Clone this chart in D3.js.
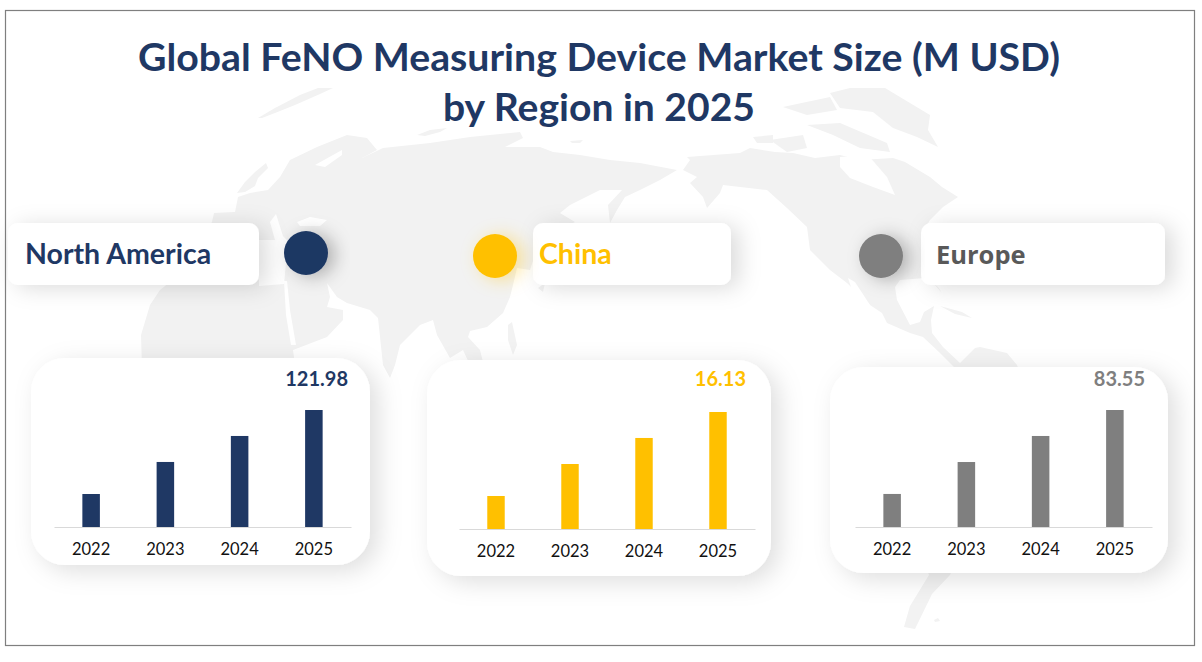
<!DOCTYPE html>
<html>
<head>
<meta charset="utf-8">
<script src="https://cdn.jsdelivr.net/npm/d3@7"></script>
<style>
    html, body { margin: 0; padding: 0; background: #fff; }
    svg { display: block; }
    text { font-family: Lato, "Open Sans", sans-serif; }
</style>
</head>
<body>
<div id="chart"></div>
<script>
// Chart data
const years = ['2022', '2023', '2024', '2025'];
const northAmericaValues = [34.4, 67.8, 94.9, 121.98];
const chinaValues = [4.55, 8.96, 12.55, 16.13];
const europeValues = [23.6, 46.4, 65.0, 83.55];
const titleLines = ['Global FeNO Measuring Device Market Size (M USD)', 'by Region in 2025'];

// Background map outlines, page pixels, traced by eye
const mapLand = [
    [[143,400],[141,335],[150,305],[160,290],[170,282],[160,270],[200,240],[212,222],[214,213],[235,212],[238,197],[250,193],[268,190],[280,177],[290,160],[317,147],[347,135],[367,138],[377,150],[362,158],[383,148],[430,143],[470,137],[520,132],[523,138],[505,147],[540,147],[553,152],[580,155],[610,160],[640,163],[677,170],[660,180],[640,190],[625,197],[617,210],[610,223],[608,205],[622,190],[600,190],[570,205],[560,213],[575,222],[540,240],[530,270],[517,268],[513,285],[510,297],[503,313],[487,327],[470,331],[468,337],[480,350],[483,362],[470,365],[463,350],[450,358],[437,335],[433,320],[420,325],[400,345],[395,365],[390,378],[383,365],[378,318],[370,310],[347,303],[337,297],[327,283],[330,297],[327,307],[343,310],[343,320],[327,337],[293,350],[300,400]],
    [[687,157],[740,153],[750,148],[775,152],[793,153],[815,158],[840,155],[860,160],[893,158],[905,162],[930,177],[942,187],[958,197],[943,207],[930,220],[921,235],[925,277],[938,287],[942,293],[935,285],[925,278],[900,280],[895,287],[897,300],[910,325],[920,322],[924,312],[934,306],[931,320],[932,333],[943,347],[960,363],[975,348],[980,347],[1007,353],[1017,365],[1030,400],[950,575],[932,594],[915,629],[904,627],[910,606],[929,575],[900,500],[955,368],[940,353],[923,337],[910,333],[887,323],[882,313],[870,305],[847,283],[830,270],[810,250],[807,227],[787,208],[767,190],[723,185],[720,193],[707,208],[703,197],[690,183],[697,177],[683,170],[690,160]],
    [[237,193],[245,182],[255,172],[266,163],[268,168],[258,178],[255,186],[245,192]],
    [[258,118],[275,108],[300,95],[318,88],[333,88],[320,94],[295,105],[275,113],[262,118]],
    [[417,135],[430,130],[447,128],[440,132],[425,136]],
    [[570,141],[583,140],[580,143],[572,143]],
    [[753,137],[773,135],[773,143],[757,143]],
    [[770,140],[803,135],[807,148],[787,152]],
    [[807,125],[840,123],[887,143],[890,152],[860,148],[833,135]],
    [[783,107],[830,97],[837,110],[807,115]],
    [[830,93],[850,88],[885,88],[930,115],[928,130],[938,147],[917,137],[893,128],[873,112],[840,108]],
    [[940,306],[962,312],[972,318],[955,314]],
    [[538,288],[545,283],[543,292]],
    [[508,325],[512,322],[517,345],[513,355],[508,340]],
    [[934,620],[938,618],[940,621],[935,622]]
];
const mapWater = [
    [[284,281],[287,281],[290,310],[296,345],[291,345],[286,315]],
    [[259,240],[275,240],[270,222],[276,214],[283,236],[292,245],[286,262],[284,284],[259,286]],
    [[315,165],[342,150],[342,155],[325,167]],
    [[297,222],[310,217],[327,220],[320,226],[300,226]],
    [[840,157],[868,155],[887,177],[895,195],[873,187],[850,178],[840,167]],
    [[848,278],[855,282],[870,305],[866,305],[852,290]]
];

const navy = '#1F3864';
const yellow = '#FFC000';
const grey = '#7F7F7F';

// One block per region
const regions = [
    { name: 'North America', values: northAmericaValues, color: navy, textColor: navy, font: 'Lato', nameSize: 28.5,
      box: [8, 223, 251, 62], nameX: 25, dot: [306, 253], card: [31, 358, 339, 207], axis: [54, 351, 527], valueX: 348 },
    { name: 'China', values: chinaValues, color: yellow, textColor: yellow, font: 'Lato', nameSize: 28.5,
      box: [533, 223, 198, 62], nameX: 539, dot: [495, 256], card: [427, 360, 344, 216], axis: [459, 755, 529], valueX: 746 },
    { name: 'Europe', values: europeValues, color: grey, textColor: '#595959', font: 'Open Sans', nameSize: 25.5,
      box: [921, 223, 244, 62], nameX: 936, dot: [881, 256], card: [830, 367, 338, 206], axis: [855, 1152, 527], valueX: 1145 }
];

const svg = d3.select('#chart').append('svg')
    .attr('width', 1202)
    .attr('height', 662);

// Shadows
const defs = svg.append('defs');

function addShadow(id, dx, dy, blur, color, opacity) {
    defs.append('filter')
        .attr('id', id)
        .attr('x', '-40%').attr('y', '-60%')
        .attr('width', '190%').attr('height', '230%')
        .append('feDropShadow')
        .attr('dx', dx).attr('dy', dy)
        .attr('stdDeviation', blur)
        .attr('flood-color', color)
        .attr('flood-opacity', opacity);
}

addShadow('boxShadow', 8, 3, 11, '#000', 0.14);
addShadow('cardShadow', 8, 6, 12, '#000', 0.13);
addShadow('dotShadow', 7, 2, 9, '#000', 0.28);
addShadow('dotGlow', 6, 2, 9, yellow, 0.4);

defs.append('clipPath').attr('id', 'mapClip')
    .append('rect')
    .attr('x', 0).attr('y', 88)
    .attr('width', 1202).attr('height', 574);

// Background map
const outline = d3.line().curve(d3.curveLinearClosed);
const map = svg.append('g').attr('clip-path', 'url(#mapClip)');

map.selectAll('.land').data(mapLand).enter().append('path')
    .attr('class', 'land')
    .attr('d', outline)
    .attr('fill', '#f2f2f2');

map.selectAll('.water').data(mapWater).enter().append('path')
    .attr('class', 'water')
    .attr('d', outline)
    .attr('fill', '#fff');

// Outer frame
svg.append('rect')
    .attr('x', 5.5).attr('y', 10.5)
    .attr('width', 1189).attr('height', 635)
    .attr('fill', 'none')
    .attr('stroke', '#7f7f7f')
    .attr('stroke-width', 1.2);

// Title
svg.selectAll('.title').data(titleLines).enter().append('text')
    .attr('class', 'title')
    .attr('x', 599)
    .attr('y', (d, i) => 71 + i * 50)
    .attr('text-anchor', 'middle')
    .attr('textLength', (d, i) => i === 0 ? 922 : 312)
    .attr('lengthAdjust', 'spacingAndGlyphs')
    .attr('font-size', 38)
    .attr('font-weight', 700)
    .attr('fill', navy)
    .text(d => d);

regions.forEach(region => {
    // Name box and dot
    svg.append('rect')
        .attr('x', region.box[0]).attr('y', region.box[1])
        .attr('width', region.box[2]).attr('height', region.box[3])
        .attr('rx', 10)
        .attr('fill', '#fff')
        .attr('filter', 'url(#boxShadow)');

    svg.append('text')
        .attr('x', region.nameX)
        .attr('y', 263.5)
        .style('font-family', region.font)
        .attr('font-size', region.nameSize)
        .attr('font-weight', 700)
        .attr('fill', region.textColor)
        .text(region.name);

    svg.append('circle')
        .attr('cx', region.dot[0]).attr('cy', region.dot[1])
        .attr('r', 22)
        .attr('fill', region.color)
        .attr('filter', region.color === yellow ? 'url(#dotGlow)' : 'url(#dotShadow)');

    // Card behind the bars
    svg.append('rect')
        .attr('x', region.card[0]).attr('y', region.card[1])
        .attr('width', region.card[2]).attr('height', region.card[3])
        .attr('rx', 34)
        .attr('fill', '#fff')
        .attr('filter', 'url(#cardShadow)');

    // Bars
    const baseline = region.axis[2];

    const xScale = d3.scaleBand()
        .domain(years)
        .range([region.axis[0], region.axis[1]])
        .paddingInner(0.764)
        .paddingOuter(0.382);

    const yScale = d3.scaleLinear()
        .domain([0, d3.max(region.values)])
        .range([baseline, baseline - 117]);

    svg.append('g')
        .selectAll('rect')
        .data(region.values)
        .enter()
        .append('rect')
        .attr('x', (d, i) => xScale(years[i]))
        .attr('y', d => yScale(d))
        .attr('width', xScale.bandwidth())
        .attr('height', d => baseline - yScale(d))
        .attr('fill', region.color);

    const xAxis = svg.append('g')
        .attr('transform', `translate(0, ${baseline})`)
        .call(d3.axisBottom(xScale).tickSize(0).tickPadding(16));

    xAxis.select('.domain').attr('stroke', '#d9d9d9');
    xAxis.selectAll('text')
        .style('font-family', 'Lato')
        .attr('font-size', 16.5)
        .attr('fill', '#111');

    // Latest value
    svg.append('text')
        .attr('x', region.valueX)
        .attr('y', 386)
        .attr('text-anchor', 'end')
        .attr('font-size', 20)
        .attr('font-weight', 700)
        .attr('fill', region.color)
        .text(d3.format('.2f')(region.values[region.values.length - 1]));
});
</script>
</body>
</html>
